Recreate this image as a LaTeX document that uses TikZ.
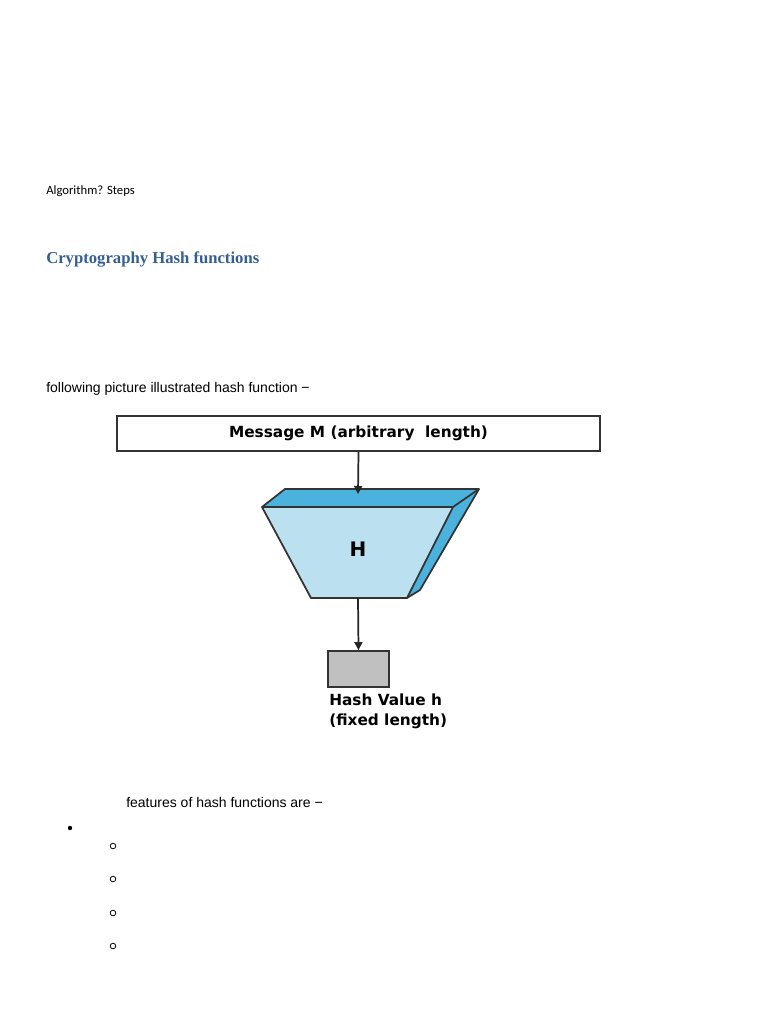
\documentclass[tikz,border=0pt]{standalone}
\usepackage{fontspec}
\setmainfont{Liberation Sans}
\newfontfamily\carl{Carlito}
\newfontfamily\serifb{Liberation Serif}
\newfontfamily\dvs{DejaVu Sans}
\usetikzlibrary{arrows.meta}
\definecolor{hblue}{RGB}{54,95,145}
\definecolor{hlight}{RGB}{187,224,240}
\definecolor{hdark}{RGB}{75,178,222}
\definecolor{hgray}{RGB}{192,192,192}
\begin{document}
\begin{tikzpicture}[x=0.75pt,y=-0.75pt,
  txt/.style={anchor=west,inner sep=0pt},
  dtxt/.style={font=\dvs\bfseries\fontsize{11.5}{14}\selectfont,inner sep=0pt},
  arr/.style={-{Triangle[length=6pt,width=6pt]},line width=1.3pt,draw=black!85},
  edge/.style={line width=1.3pt,draw=black!80,line join=round}]
\useasboundingbox (0,0) rectangle (768,1024);
\node[txt,font=\carl\fontsize{9.5}{11}\selectfont] (alg) at (46,191) {Algorithm? Steps};
\node[txt,font=\serifb\bfseries\fontsize{12.5}{15}\selectfont,text=hblue] (title) at (46,259) {Cryptography Hash functions};
\node[txt,font=\fontsize{10.5}{12}\selectfont] (intro) at (46,389) {following picture illustrated hash function −};
% message box
\node[draw=black!80,line width=1.5pt,minimum width=483*0.75pt,minimum height=35*0.75pt,inner sep=0pt,dtxt] (msg) at (358.5,433.5) {Message M (arbitrary\ \ length)};
% trapezoid
\fill[hdark] (262,507) -- (285,489) -- (479,489) -- (453,507) -- cycle;
\fill[hdark] (453,507) -- (479,489) -- (420,590) -- (407,598) -- cycle;
\draw[edge] (262,507) -- (285,489) -- (479,489) -- (453,507);
\draw[edge] (479,489) -- (420,590) -- (407,598);
\draw[edge,fill=hlight] (262,507) -- (453,507) -- (407,598) -- (311,598) -- cycle;
\node[dtxt,font=\dvs\bfseries\fontsize{15}{18}\selectfont] (H) at (358,549) {H};
\coordinate (htop) at (358,494);
\coordinate (hbot) at (358,598);
\node[draw=black!80,line width=1.3pt,fill=hgray,minimum width=61*0.75pt,minimum height=36*0.75pt,inner sep=0pt] (hv) at (358.5,669) {};
\draw[arr] (msg.south) -- (htop);
\draw[arr] (hbot) -- (hv.north);
\node[dtxt,anchor=north west,align=left,font=\dvs\bfseries\fontsize{11.5}{14.5}\selectfont] (hvl) at (329,694) {Hash Value h\\(fixed length)};
\node[txt,font=\fontsize{10.5}{12}\selectfont] (feat) at (126,802) {features of hash functions are −};
\fill (70,828) circle (2.2);
\foreach \yy in {846,879,913,946} \draw[line width=0.6pt] (113,\yy) circle (2.8);
\end{tikzpicture}
\end{document}
